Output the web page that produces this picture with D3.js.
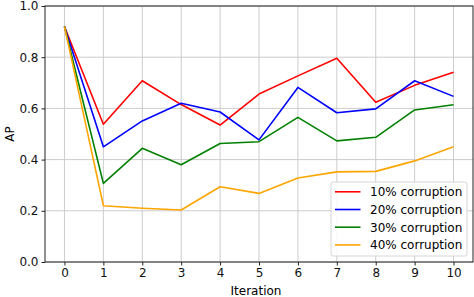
<!DOCTYPE html>
<html>
<head>
<meta charset="utf-8">
<script src="https://cdn.jsdelivr.net/npm/d3@7"></script>
<style>
  body { margin: 0; background: #fff; }
  text { font-family: "DejaVu Sans", sans-serif; }
</style>
</head>
<body>
<div id="chart"></div>
<script>
// data
var iterations = [0, 1, 2, 3, 4, 5, 6, 7, 8, 9, 10];
var seriesNames = ["10% corruption", "20% corruption", "30% corruption", "40% corruption"];
var seriesColors = ["#ff0000", "#0000ff", "#008000", "#ffa500"];
var ap10 = [0.92, 0.538, 0.708, 0.615, 0.535, 0.656, 0.727, 0.796, 0.624, 0.69, 0.741];
var ap20 = [0.92, 0.45, 0.551, 0.62, 0.586, 0.477, 0.682, 0.583, 0.598, 0.708, 0.647];
var ap30 = [0.92, 0.307, 0.444, 0.38, 0.463, 0.47, 0.565, 0.473, 0.487, 0.594, 0.614];
var ap40 = [0.92, 0.22, 0.21, 0.203, 0.294, 0.268, 0.328, 0.352, 0.354, 0.395, 0.45];
var yTicks = [0.0, 0.2, 0.4, 0.6, 0.8, 1.0];

var svgWidth = 474, svgHeight = 297;
var margin = {top: 6, right: 1, bottom: 35, left: 45};
var chartWidth = svgWidth - margin.left - margin.right;
var chartHeight = svgHeight - margin.top - margin.bottom;
var fontSize = "12px";

var svg = d3.select("#chart")
  .append("svg")
  .attr("width", svgWidth)
  .attr("height", svgHeight);

var chartGroup = svg.append("g")
  .attr("transform", `translate(${margin.left}, ${margin.top})`);

var xScale = d3.scaleLinear().domain([-0.5, 10.5]).range([0, chartWidth]);
var yScale = d3.scaleLinear().domain([0, 1]).range([chartHeight, 0]);

// grid
chartGroup.append("g").selectAll("line")
  .data(iterations).enter().append("line")
  .attr("x1", d => xScale(d)).attr("x2", d => xScale(d))
  .attr("y1", 0).attr("y2", chartHeight)
  .attr("stroke", "#cccccc").attr("stroke-width", 1);
chartGroup.append("g").selectAll("line")
  .data(yTicks).enter().append("line")
  .attr("x1", 0).attr("x2", chartWidth)
  .attr("y1", d => yScale(d)).attr("y2", d => yScale(d))
  .attr("stroke", "#cccccc").attr("stroke-width", 1);

// lines
var allSeries = [ap10, ap20, ap30, ap40];
var line = d3.line()
  .x((d, i) => xScale(iterations[i]))
  .y(d => yScale(d));

allSeries.forEach((s, i) => {
  chartGroup.append("path")
    .datum(s)
    .attr("d", line)
    .attr("fill", "none")
    .attr("stroke", seriesColors[i])
    .attr("stroke-width", 1.6)
    .attr("stroke-linejoin", "round");
});

// axes
var bottomAxis = d3.axisBottom(xScale).tickValues(iterations).tickSize(3.5).tickPadding(3).tickFormat(d3.format("d"));
var leftAxis = d3.axisLeft(yScale).tickValues(yTicks).tickSize(3.5).tickPadding(3).tickFormat(d3.format(".1f"));

var xAxisG = chartGroup.append("g")
  .attr("transform", `translate(0, ${chartHeight})`)
  .call(bottomAxis);
var yAxisG = chartGroup.append("g").call(leftAxis);

[xAxisG, yAxisG].forEach(g => {
  g.select(".domain").remove();
  g.selectAll("line").attr("stroke", "#222");
  g.selectAll("text").attr("font-size", fontSize).attr("fill", "#111")
    .style("font-family", "DejaVu Sans");
});

// spines
chartGroup.append("rect")
  .attr("x", 0).attr("y", 0)
  .attr("width", chartWidth).attr("height", chartHeight)
  .attr("fill", "none").attr("stroke", "#222").attr("stroke-width", 1);

// axis labels
svg.append("text")
  .attr("transform", `translate(13.5, ${margin.top + chartHeight / 2}) rotate(-90)`)
  .attr("text-anchor", "middle")
  .attr("font-size", fontSize)
  .text("AP");

svg.append("text")
  .attr("x", margin.left + chartWidth / 2 - 3)
  .attr("y", 295)
  .attr("text-anchor", "middle")
  .attr("font-size", fontSize)
  .text("Iteration");

// legend
var legend = svg.append("g").attr("transform", "translate(331, 182)");
legend.append("rect")
  .attr("x", 0).attr("y", 0).attr("width", 136).attr("height", 74)
  .attr("rx", 2)
  .attr("fill", "#fff").attr("fill-opacity", 0.85)
  .attr("stroke", "#d6d6d6");

seriesNames.forEach((name, i) => {
  var yy = 9.8 + i * 17.7;
  legend.append("line")
    .attr("x1", 4).attr("x2", 29.5)
    .attr("y1", yy).attr("y2", yy)
    .attr("stroke", seriesColors[i]).attr("stroke-width", 1.6);
  legend.append("text")
    .attr("x", 39).attr("y", yy + 4.3)
    .attr("font-size", fontSize)
    .text(name);
});
</script>
</body>
</html>
